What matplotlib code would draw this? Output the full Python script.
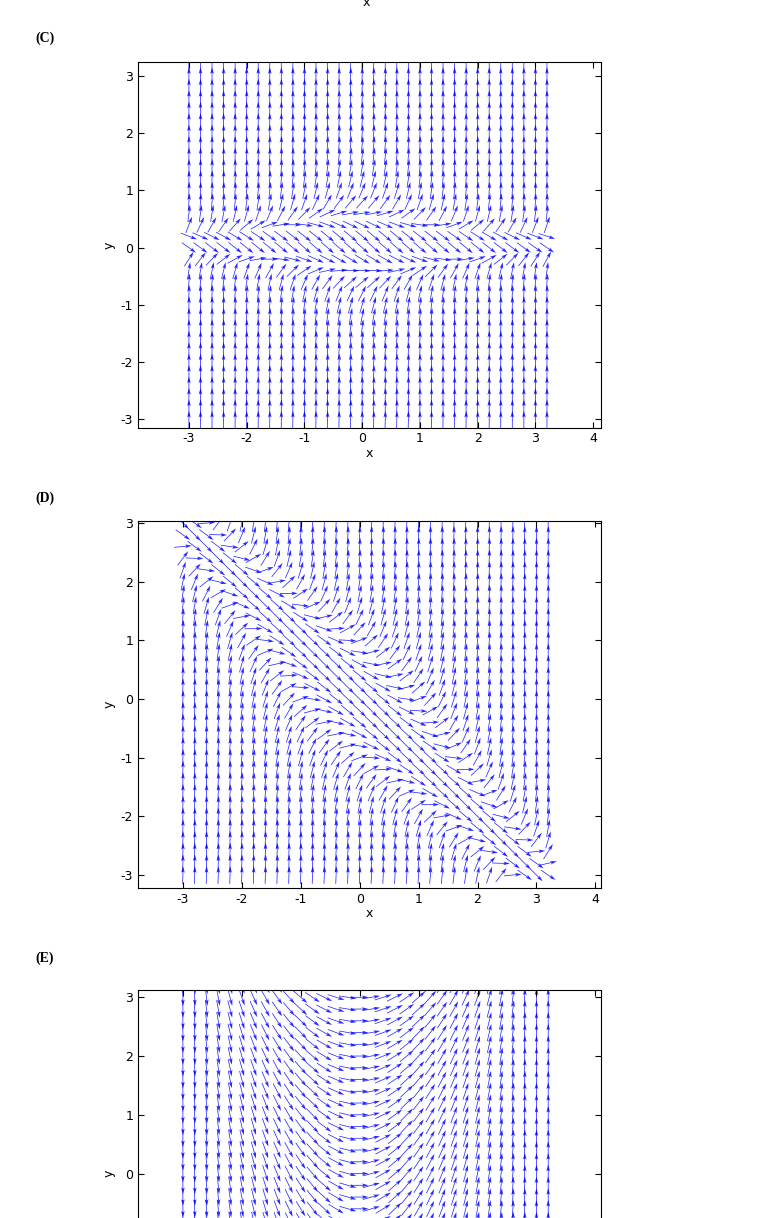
import numpy as np
import matplotlib
matplotlib.use("Agg")
import matplotlib.pyplot as plt
plt.rcParams['axes.unicode_minus'] = False

grid_vals = np.arange(-3, 3.21, 0.2)
xticks = [-3, -2, -1, 0, 1, 2, 3, 4]
yticks = [-3, -2, -1, 0, 1, 2, 3]
panel_labels = ["(C)", "(D)", "(E)"]

def fC(x, y):
    w = 0.6 + 0.5 * x**2
    return -0.9 + 6.4 * (y - 0.075)**2 * w

def fD(x, y):
    return -1 + 1.2 * (x + y)**2 * (1 + 0.15 * (y - x)**2)

def fE(x, y):
    return 1.3 * x / np.clip(1 - (x / 3.0)**2, 0.03, None) * (0.6 + 0.15 * np.abs(y - 3))

fig = plt.figure(figsize=(7.63, 12.18), dpi=100)
specs = [
    (fC, [0.181, 0.649, 0.607, 0.300], (-3.88, 4.14), (-3.14, 3.24)),
    (fD, [0.181, 0.271, 0.607, 0.301], (-3.76, 4.10), (-3.22, 3.03)),
    (fE, [0.181, -0.114, 0.607, 0.301], (-3.76, 4.10), (-3.12, 3.12)),
]
X, Y = np.meshgrid(grid_vals, grid_vals)
label_y = [38, 498, 958]
for (f, rect, xl, yl), lab, ly in zip(specs, panel_labels, label_y):
    ax = fig.add_axes(rect)
    S = f(X, Y)
    U = np.ones_like(S)
    n = np.hypot(U, S)
    ax.quiver(X, Y, U / n, S / n, color="blue", angles="xy", scale_units="xy",
              scale=1 / 0.3, pivot="mid", width=0.0016, headwidth=5, headlength=9,
              headaxislength=7, alpha=0.85)
    ax.set_xlim(*xl)
    ax.set_ylim(*yl)
    ax.set_xticks(xticks)
    ax.set_yticks(yticks)
    ax.set_xlabel("x", fontsize=9, labelpad=1)
    ax.set_ylabel("y", fontsize=9)
    ax.tick_params(labelsize=9, direction="in", top=True, right=True, length=4)
    fig.text(35 / 763, 1 - ly / 1218, lab, fontsize=10, fontweight="bold",
             family="Liberation Serif", va="center")
fig.text(366 / 763, 1 - 2 / 1218, "x", fontsize=9, ha="center", va="center")
fig.savefig("out.png", dpi=100)
